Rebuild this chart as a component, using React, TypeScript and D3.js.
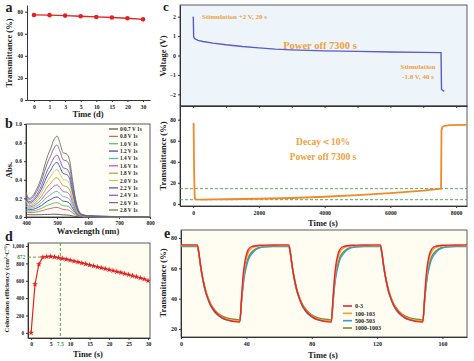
import React, { useEffect, useRef } from "react";
import * as d3 from "d3";

const FONT = "'Liberation Serif', 'Times New Roman', serif";

// a: transmittance stability over days
const stabDays = ["0", "1", "3", "5", "10", "15", "20", "30"];
const stabTrans = [77, 76.8, 76.4, 75.8, 75.2, 74.7, 74.0, 73.0];

// b: absorption spectra
const wavelengths = [400, 405, 410, 420, 430, 440, 450, 460, 470, 480, 490, 500, 510, 520, 530, 540, 550, 560, 570, 580, 600, 650, 700, 800];
const topSpectrum = [0.27, 0.22, 0.2, 0.22, 0.27, 0.34, 0.43, 0.55, 0.66, 0.74, 0.83, 0.87, 0.79, 0.69, 0.68, 0.62, 0.4, 0.19, 0.07, 0.03, 0.015, 0.008, 0.004, 0];
const blueTail = [1, 0.9, 0.85, 0.8, 0.75, 0.7, 0.65, 0.6, 0.55, 0.5, 0.45, 0.4, 0.35, 0.3, 0.25, 0.2, 0.12, 0.05, 0.02, 0.01, 0, 0, 0, 0];
const voltLabels = ["0/0.7 V 1s", "0.8 V 1s", "1.0 V 1s", "1.2 V 1s", "1.4 V 1s", "1.6 V 1s", "1.8 V 1s", "2.0 V 1s", "2.2 V 1s", "2.4 V 1s", "2.6 V 1s", "2.8 V 1s"];
const voltColors = ["#4d4d4d", "#e05a5a", "#4cc05a", "#3c3cb0", "#3cc0b0", "#c048c0", "#b0a040", "#c4c858", "#3050c0", "#8050c0", "#8a5a86", "#5a7a55"];
const peakAbs = [0.02, 0.09, 0.14, 0.2, 0.26, 0.33, 0.41, 0.5, 0.58, 0.66, 0.77, 0.87];
const edgeAbs = [0.03, 0.06, 0.08, 0.1, 0.12, 0.14, 0.16, 0.18, 0.2, 0.22, 0.25, 0.27];

// c: memory effect
const voltTime = [0, 5, 15, 25, 60, 150, 300, 600, 1000, 1500, 2000, 2500, 3000, 4000, 5000, 6000, 7000, 7540, 7555, 7600, 7640];
const voltValue = [2.0, 1.9, 1.0, 0.92, 0.85, 0.78, 0.72, 0.64, 0.55, 0.46, 0.39, 0.33, 0.29, 0.24, 0.21, 0.18, 0.16, 0.15, -1.75, -1.8, -1.85];
const memTime = [0, 15, 30, 45, 60, 100, 300, 600, 1000, 2000, 3000, 4000, 5000, 6000, 7000, 7540, 7555, 7580, 7650, 7800, 8330];
const memTrans = [77, 76, 30, 8, 4.5, 4.2, 4.1, 4.2, 4.4, 4.9, 5.6, 6.8, 8.4, 10.3, 12.6, 14.5, 70, 73, 74.2, 74.8, 75];
const memLevels = [14.5, 4];

// d: coloration efficiency
const ceTime = d3.range(0, 31);
const ceValue = [0, 560, 790, 872, 878, 880, 874, 866, 857, 847, 837, 826, 815, 804, 793, 782, 771, 760, 749, 738, 727, 716, 705, 694, 682, 670, 658, 646, 633, 618, 600];

// e: cycling
const cycleNames = ["0-3", "100-103", "500-503", "1000-1003"];
const cycleColors = ["#e8262a", "#f0a028", "#3a9ad8", "#7a8a34"];
const colorStarts = [10, 66, 122];
const bleachStarts = [36, 92, 148];
const colorOffsets = [0, 1, 2, 3, 4, 5, 6, 8, 10, 12, 15, 18, 21, 24, 26];
const bleachOffsets = [0, 1, 2, 3, 4, 5, 6, 8, 10, 12, 15, 20, 25, 30];
const colorCurves = [
  [75.5, 70, 62, 55, 49.5, 45, 41.5, 36, 32.5, 30, 27.5, 26, 25.2, 24.7, 24.5],
  [75, 69.5, 61.5, 55, 49.5, 45, 42, 36.5, 33, 30.5, 28, 26.5, 25.8, 25.4, 25.3],
  [74.5, 69, 61, 54.5, 49, 44.5, 41, 35.5, 32, 29.5, 27.2, 26, 25.3, 25, 25],
  [74.3, 69, 61.5, 55.5, 50.5, 46, 42.5, 37, 33.5, 31, 28.7, 27.3, 26.6, 26.2, 26],
];
const bleachCurves = [
  [24.5, 40, 55, 64, 69, 72, 73.5, 74.6, 75, 75.2, 75.3, 75.4, 75.5, 75.5],
  [25.3, 39, 52, 61, 66.5, 70, 72, 73.8, 74.5, 74.8, 75, 75, 75, 75],
  [25, 37, 48, 56, 61, 65, 67.5, 70.5, 72.5, 73.5, 74.2, 74.5, 74.5, 74.5],
  [26, 38, 50, 58, 63, 66.5, 69, 71.5, 73, 73.8, 74.2, 74.3, 74.3, 74.3],
];

function styleAxis(g, size = 6.5) {
  g.attr("font-family", FONT);
  g.selectAll("text").attr("font-family", FONT).attr("font-weight", "bold").attr("font-size", size).attr("fill", "#222");
  g.selectAll("line").attr("stroke", "#333");
  g.select(".domain").attr("stroke", "#333");
}

function label(svg, text, x, y, opts: any = {}) {
  const t = svg.append("text")
    .attr("x", x).attr("y", y)
    .attr("font-family", FONT)
    .attr("font-weight", "bold")
    .attr("font-size", opts.size || 8.5)
    .attr("fill", opts.fill || "#222")
    .attr("text-anchor", opts.anchor || "middle")
    .text(text);
  if (opts.rotate) t.attr("transform", "rotate(-90," + x + "," + y + ")");
  return t;
}

function frame(svg, x0, y0, x1, y1, fill) {
  svg.append("rect").attr("x", x0).attr("y", y0).attr("width", x1 - x0).attr("height", y1 - y0)
    .attr("fill", fill).attr("stroke", "#333").attr("stroke-width", 0.8);
}

function drawA(svg) {
  const x = d3.scalePoint().domain(stabDays).range([27, 150]).padding(0.45);
  const y = d3.scaleLinear().domain([0, 86]).range([100, 5]);
  svg.append("g").attr("transform", "translate(0,100)")
    .call(d3.axisBottom(x).tickSize(2).tickSizeOuter(0).tickPadding(3)).call(styleAxis, 5.8);
  svg.append("g").attr("transform", "translate(27,0)")
    .call(d3.axisLeft(y).tickValues([0, 20, 40, 60, 80]).tickSize(2).tickSizeOuter(0).tickPadding(2)).call(styleAxis, 5.5);
  const line = d3.line<number>().x((d, i) => x(stabDays[i])).y(d => y(d));
  svg.append("path").datum(stabTrans).attr("d", line).attr("fill", "none").attr("stroke", "#e02424").attr("stroke-width", 1.3);
  svg.selectAll("circle.a").data(stabTrans).enter().append("circle")
    .attr("cx", (d, i) => x(stabDays[i])).attr("cy", d => y(d)).attr("r", 2.3).attr("fill", "#e02424");
  label(svg, "Transmittance (%)", 12, 53, { rotate: true });
  label(svg, "Time (d)", 88, 117);
  label(svg, "a", 9, 12, { size: 14 });
}

function drawB(svg) {
  frame(svg, 26, 124, 150, 217, "#fffef8");
  const x = d3.scaleLinear().domain([400, 800]).range([26, 150]);
  const y = d3.scaleLinear().domain([0, 1]).range([217, 124]);
  svg.append("g").attr("transform", "translate(0,217)")
    .call(d3.axisBottom(x).tickValues([400, 500, 600, 700, 800]).tickSize(2).tickSizeOuter(0).tickPadding(2)).call(styleAxis, 5.5);
  svg.append("g").attr("transform", "translate(26,0)")
    .call(d3.axisLeft(y).tickValues([0, 0.2, 0.4, 0.6, 0.8, 1.0]).tickFormat(d3.format(".1f")).tickSize(2).tickSizeOuter(0).tickPadding(2)).call(styleAxis, 5.5);
  const line = d3.line<number>().x((d, i) => x(wavelengths[i])).y(d => y(d)).curve(d3.curveMonotoneX);
  peakAbs.forEach((p, k) => {
    const s0 = topSpectrum[0] / 0.87;
    const vals = topSpectrum.map((v, i) => p * v / 0.87 + (edgeAbs[k] - p * s0) * blueTail[i]);
    svg.append("path").datum(vals).attr("d", line).attr("fill", "none").attr("stroke", voltColors[k]).attr("stroke-width", 0.9);
  });
  const ly = d3.scalePoint().domain(voltLabels).range([129, 210]);
  voltLabels.forEach((l, k) => {
    svg.append("line").attr("x1", 109).attr("x2", 118).attr("y1", ly(l)).attr("y2", ly(l)).attr("stroke", voltColors[k]).attr("stroke-width", 1.2);
    label(svg, l, 120, ly(l) + 2, { size: 5.3, anchor: "start" });
  });
  label(svg, "Abs.", 12, 170, { rotate: true });
  label(svg, "Wavelength (nm)", 88, 234);
  label(svg, "b", 9, 128, { size: 14 });
}

function drawC(svg) {
  const x = d3.scaleLinear().domain([-400, 8330]).range([180, 467]);
  const yV = d3.scaleLinear().domain([-2.6, 2.6]).range([106, 5]);
  const yT = d3.scaleLinear().domain([-2, 93]).range([206, 106]);
  frame(svg, 180, 5, 467, 106, "#edf5fb");
  frame(svg, 180, 106, 467, 206, "#ffffff");
  svg.append("g").attr("transform", "translate(180,0)")
    .call(d3.axisLeft(yV).tickValues([-2, -1, 0, 1, 2]).tickFormat(d3.format("d")).tickSize(2).tickSizeOuter(0).tickPadding(2)).call(styleAxis, 5.8);
  svg.append("g").attr("transform", "translate(180,0)")
    .call(d3.axisLeft(yT).tickValues([0, 20, 40, 60, 80]).tickSize(2).tickSizeOuter(0).tickPadding(2)).call(styleAxis, 5.8);
  svg.append("g").attr("transform", "translate(0,206)")
    .call(d3.axisBottom(x).tickValues([0, 2000, 4000, 6000, 8000]).tickFormat(d3.format("d")).tickSize(2).tickSizeOuter(0).tickPadding(3)).call(styleAxis, 5.8);
  svg.append("g").attr("transform", "translate(0,106)")
    .call(d3.axisBottom(x).tickValues([0, 1000, 2000, 3000, 4000, 5000, 6000, 7000, 8000]).tickSize(2).tickSizeOuter(0).tickFormat(() => "")).call(styleAxis);

  const vLine = d3.line<number>().x((d, i) => x(voltTime[i])).y(d => yV(d));
  svg.append("path").datum(voltValue).attr("d", vLine).attr("fill", "none").attr("stroke", "#5a5cc4").attr("stroke-width", 1.4);
  memLevels.forEach(v => {
    svg.append("line").attr("x1", 180).attr("x2", 467).attr("y1", yT(v)).attr("y2", yT(v))
      .attr("stroke", "#4aa04a").attr("stroke-width", 0.9).attr("stroke-dasharray", "3,2");
  });
  const tLine = d3.line<number>().x((d, i) => x(memTime[i])).y(d => yT(d));
  svg.append("path").datum(memTrans).attr("d", tLine).attr("fill", "none").attr("stroke", "#f08a28").attr("stroke-width", 1.8);

  const orange = "#eea040";
  label(svg, "Stimulation +2 V, 20 s", 202, 19, { size: 7, anchor: "start", fill: orange });
  label(svg, "Power off 7300 s", 320, 49, { size: 10.5, fill: orange });
  label(svg, "Stimulation", 418, 68.5, { size: 7, fill: orange });
  label(svg, "-1.8 V, 40 s", 418, 78.5, { size: 7, fill: orange });
  label(svg, "Decay\uff1c10%", 323, 145, { size: 9.5, fill: orange });
  label(svg, "Power off 7300 s", 323, 160, { size: 9.5, fill: orange });

  label(svg, "Voltage (V)", 166, 56, { rotate: true });
  label(svg, "Transmittance (%)", 166, 156, { rotate: true });
  label(svg, "Time (s)", 323, 226);
  label(svg, "c", 166, 11, { size: 13 });
}

function drawD(svg) {
  frame(svg, 28, 243, 150, 338, "#fffcf0");
  const x = d3.scaleLinear().domain([-0.8, 30.5]).range([28, 150]);
  const y = d3.scaleLinear().domain([-60, 1035]).range([338, 243]);
  svg.append("g").attr("transform", "translate(0,338)")
    .call(d3.axisBottom(x).tickValues([0, 5, 10, 15, 20, 25, 30]).tickSize(2).tickSizeOuter(0).tickPadding(2)).call(styleAxis, 5.8);
  svg.append("g").attr("transform", "translate(28,0)")
    .call(d3.axisLeft(y).tickValues([0, 200, 400, 600, 800, 1000]).tickSize(2).tickSizeOuter(0).tickPadding(2)).call(styleAxis, 5.2);
  const green = "#3f9a3f";
  svg.append("line").attr("x1", x(7.5)).attr("x2", x(7.5)).attr("y1", 243).attr("y2", 338)
    .attr("stroke", green).attr("stroke-width", 0.9).attr("stroke-dasharray", "3,2");
  svg.append("line").attr("x1", 28).attr("x2", x(3)).attr("y1", y(872)).attr("y2", y(872))
    .attr("stroke", green).attr("stroke-width", 0.9).attr("stroke-dasharray", "3,2");
  label(svg, "872", 25, y(872) + 2, { size: 5.2, anchor: "end", fill: green });
  label(svg, "7.5", x(7.5), 346, { size: 5.8, fill: green });
  const line = d3.line<number>().x((d, i) => x(ceTime[i])).y(d => y(d));
  svg.append("path").datum(ceValue).attr("d", line).attr("fill", "none").attr("stroke", "#e02424").attr("stroke-width", 1.2);
  const star = d3.symbol().type(d3.symbolStar).size(11);
  svg.selectAll("path.ce").data(ceValue).enter().append("path")
    .attr("transform", (d, i) => "translate(" + x(ceTime[i]) + "," + y(d) + ")")
    .attr("d", star).attr("fill", "#e02424");
  svg.append("text").attr("transform", "translate(9,288) rotate(-90)")
    .attr("font-family", FONT).attr("font-weight", "bold").attr("font-size", 6.8).attr("text-anchor", "middle").attr("fill", "#222")
    .text("Coloration efficiency (cm\u00b2\u00b7C\u207b\u00b9)");
  label(svg, "Time (s)", 88, 357);
  label(svg, "d", 9, 241, { size: 14 });
}

function drawE(svg) {
  frame(svg, 181, 230, 467, 337, "#fffdf2");
  const x = d3.scaleLinear().domain([0, 175]).range([181, 467]);
  const y = d3.scaleLinear().domain([14.7, 85.3]).range([337, 230]);
  svg.append("g").attr("transform", "translate(0,337)")
    .call(d3.axisBottom(x).tickValues([0, 40, 80, 120, 160]).tickSize(2).tickSizeOuter(0).tickPadding(3)).call(styleAxis, 6);
  svg.append("g").attr("transform", "translate(181,0)")
    .call(d3.axisLeft(y).tickValues([20, 40, 60, 80]).tickSize(2).tickSizeOuter(0).tickPadding(2)).call(styleAxis, 6);
  svg.append("clipPath").attr("id", "clipE").append("rect").attr("x", 181).attr("y", 230).attr("width", 286).attr("height", 107);
  const line = d3.line<[number, number]>().x(d => x(d[0])).y(d => y(d[1]));
  const order = [3, 2, 1, 0];
  order.forEach(k => {
    const pts: [number, number][] = [[0, colorCurves[k][0]]];
    colorStarts.forEach((c, j) => {
      colorOffsets.forEach((o, i) => pts.push([c + o, colorCurves[k][i]]));
      bleachOffsets.forEach((o, i) => pts.push([bleachStarts[j] + o, bleachCurves[k][i]]));
    });
    svg.append("path").datum(pts).attr("d", line.curve(d3.curveMonotoneX)).attr("clip-path", "url(#clipE)")
      .attr("fill", "none").attr("stroke", cycleColors[k]).attr("stroke-width", 1.4);
  });
  const ly = d3.scalePoint().domain(cycleNames).range([306, 328]);
  cycleNames.forEach((n, k) => {
    svg.append("line").attr("x1", 343).attr("x2", 352).attr("y1", ly(n)).attr("y2", ly(n)).attr("stroke", cycleColors[k]).attr("stroke-width", 1.6);
    label(svg, n, 355, ly(n) + 2.2, { size: 6, anchor: "start" });
  });
  label(svg, "Transmittance (%)", 166, 283, { rotate: true });
  label(svg, "Time (s)", 323, 358);
  label(svg, "e", 167, 238, { size: 14 });
}

export default function App() {
  const ref = useRef<SVGSVGElement>(null);
  useEffect(() => {
    const svg = d3.select(ref.current);
    svg.selectAll("*").remove();
    drawA(svg);
    drawB(svg);
    drawC(svg);
    drawD(svg);
    drawE(svg);
  }, []);
  return (
    <svg ref={ref} width={474} height={361}
      style={{ position: "absolute", left: 0, top: 0, background: "#ffffff" }} />
  );
}
